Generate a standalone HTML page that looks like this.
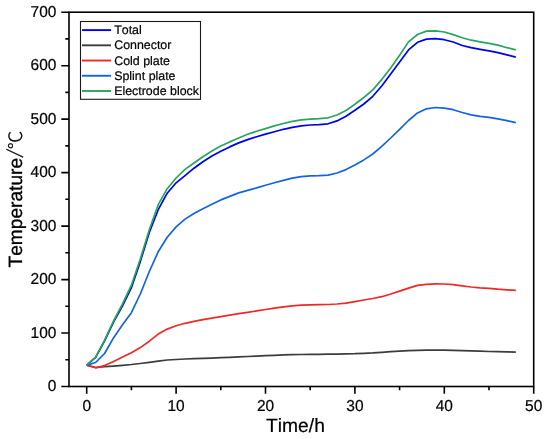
<!DOCTYPE html>
<html lang="en"><head><meta charset="utf-8"><title>Temperature vs Time</title>
<style>
html,body{margin:0;padding:0;background:#fff;}
body{width:550px;height:439px;overflow:hidden;}
svg{display:block;}
text{font-family:"Liberation Sans",sans-serif;fill:#000;font-kerning:none;text-rendering:geometricPrecision;stroke:#000;stroke-width:0.2px;}
.tk{font-size:15.5px;stroke-width:0.35px;}
.lg{font-size:12.4px;}
.ax{font-size:19.3px;stroke-width:0.3px;}
.sl{font-family:"IPAGothic","Liberation Sans",sans-serif;}
.cj{font-family:"Liberation Sans","Noto Sans CJK SC",sans-serif;font-weight:300;font-size:18.5px;}
</style></head><body>
<svg width="550" height="439" viewBox="0 0 550 439">
<rect x="0" y="0" width="550" height="439" fill="#ffffff"/>
<g>
<polyline points="86.7,365.1 95.6,357.3 104.6,340.8 113.5,322.1 122.5,305.8 131.4,287.6 140.3,261.6 149.3,232.5 158.2,209.7 167.2,193.2 176.1,182.8 185.0,175.6 194.0,168.2 202.9,161.7 211.9,156.0 220.8,151.2 229.7,146.9 238.7,142.9 247.6,139.6 256.6,136.7 265.5,134.1 274.4,131.7 283.4,129.3 292.3,127.4 301.3,125.9 310.2,125.0 319.1,124.6 328.1,123.8 337.0,120.9 346.0,116.2 354.9,110.3 363.8,104.0 372.8,96.3 381.7,86.0 390.7,73.9 399.6,61.9 408.5,49.9 417.5,42.3 426.4,39.1 435.4,38.7 444.3,39.7 453.2,42.0 462.2,45.5 471.1,47.7 480.1,49.3 489.0,50.9 497.9,52.6 506.9,54.9 515.8,57.1" fill="none" stroke="#0000f0" stroke-width="1.7" stroke-linejoin="round" stroke-linecap="butt"/>
<polyline points="86.7,365.1 95.6,367.5 104.6,366.7 113.5,366.1 122.5,365.3 131.4,364.5 140.3,363.5 149.3,362.3 158.2,361.1 167.2,360.0 176.1,359.5 185.0,359.0 194.0,358.7 202.9,358.4 211.9,358.1 220.8,357.7 229.7,357.3 238.7,356.9 247.6,356.5 256.6,356.1 265.5,355.7 274.4,355.3 283.4,354.9 292.3,354.7 301.3,354.5 310.2,354.4 319.1,354.3 328.1,354.2 337.0,354.1 346.0,353.9 354.9,353.7 363.8,353.3 372.8,352.9 381.7,352.3 390.7,351.7 399.6,351.2 408.5,350.7 417.5,350.3 426.4,350.1 435.4,350.1 444.3,350.2 453.2,350.4 462.2,350.6 471.1,350.9 480.1,351.2 489.0,351.5 497.9,351.7 506.9,351.9 515.8,352.1" fill="none" stroke="#3c3c3c" stroke-width="1.7" stroke-linejoin="round" stroke-linecap="butt"/>
<polyline points="86.7,365.1 95.6,367.8 104.6,365.6 113.5,361.4 122.5,357.1 131.4,352.8 140.3,347.6 149.3,341.2 158.2,334.1 167.2,329.1 176.1,325.8 185.0,323.3 194.0,321.3 202.9,319.6 211.9,318.1 220.8,316.6 229.7,315.1 238.7,313.7 247.6,312.3 256.6,310.9 265.5,309.5 274.4,308.1 283.4,306.8 292.3,305.9 301.3,305.2 310.2,304.8 319.1,304.7 328.1,304.5 337.0,304.0 346.0,303.1 354.9,301.6 363.8,300.0 372.8,298.5 381.7,296.7 390.7,294.0 399.6,291.1 408.5,288.1 417.5,285.4 426.4,284.3 435.4,283.9 444.3,284.0 453.2,284.6 462.2,285.8 471.1,287.0 480.1,287.9 489.0,288.4 497.9,289.2 506.9,289.8 515.8,290.3" fill="none" stroke="#f02828" stroke-width="1.7" stroke-linejoin="round" stroke-linecap="butt"/>
<polyline points="86.7,365.1 95.6,362.5 104.6,353.5 113.5,337.9 122.5,324.8 131.4,312.7 140.3,294.0 149.3,271.5 158.2,251.8 167.2,237.3 176.1,226.9 185.0,219.1 194.0,213.5 202.9,208.7 211.9,204.2 220.8,199.9 229.7,196.4 238.7,192.9 247.6,190.4 256.6,187.9 265.5,185.2 274.4,182.8 283.4,180.4 292.3,178.2 301.3,176.6 310.2,175.9 319.1,175.7 328.1,175.1 337.0,173.0 346.0,169.6 354.9,165.0 363.8,159.9 372.8,154.0 381.7,146.4 390.7,138.0 399.6,129.3 408.5,120.5 417.5,112.9 426.4,108.8 435.4,107.5 444.3,108.1 453.2,109.7 462.2,112.5 471.1,114.9 480.1,116.4 489.0,117.3 497.9,118.8 506.9,120.7 515.8,122.7" fill="none" stroke="#1464e1" stroke-width="1.7" stroke-linejoin="round" stroke-linecap="butt"/>
<polyline points="86.7,365.1 95.6,357.1 104.6,340.2 113.5,321.0 122.5,303.9 131.4,285.2 140.3,259.0 149.3,229.8 158.2,204.7 167.2,188.7 176.1,178.0 185.0,169.4 194.0,163.0 202.9,156.8 211.9,151.0 220.8,146.1 229.7,141.9 238.7,138.0 247.6,134.3 256.6,131.3 265.5,128.6 274.4,125.9 283.4,123.5 292.3,121.3 301.3,119.9 310.2,119.1 319.1,118.6 328.1,117.8 337.0,115.0 346.0,110.5 354.9,104.3 363.8,97.5 372.8,89.9 381.7,79.6 390.7,67.9 399.6,55.2 408.5,41.9 417.5,34.5 426.4,31.1 435.4,30.8 444.3,32.0 453.2,34.6 462.2,37.8 471.1,40.2 480.1,41.9 489.0,43.4 497.9,45.1 506.9,47.7 515.8,49.9" fill="none" stroke="#28a55f" stroke-width="1.7" stroke-linejoin="round" stroke-linecap="butt"/>
</g>
<rect x="69.0" y="12.2" width="464.7" height="374.3" fill="none" stroke="#000" stroke-width="1.6"/>
<path d="M69.0 386.5H61.3M69.0 359.8H65.3M69.0 333.0H61.3M69.0 306.3H65.3M69.0 279.6H61.3M69.0 252.8H65.3M69.0 226.1H61.3M69.0 199.3H65.3M69.0 172.6H61.3M69.0 145.9H65.3M69.0 119.1H61.3M69.0 92.4H65.3M69.0 65.7H61.3M69.0 38.9H65.3M69.0 12.2H61.3M86.7 386.5V393.7M131.4 386.5V390.3M176.1 386.5V393.7M220.8 386.5V390.3M265.5 386.5V393.7M310.2 386.5V390.3M354.9 386.5V393.7M399.6 386.5V390.3M444.3 386.5V393.7M489.0 386.5V390.3M533.7 386.5V393.7" stroke="#000" stroke-width="1.6" fill="none"/>
<g class="tk" text-anchor="end">
<text transform="translate(56.4 391.2) scale(1 1.02)">0</text>
<text transform="translate(56.4 337.7) scale(1 1.02)">100</text>
<text transform="translate(56.4 284.3) scale(1 1.02)">200</text>
<text transform="translate(56.4 230.8) scale(1 1.02)">300</text>
<text transform="translate(56.4 177.3) scale(1 1.02)">400</text>
<text transform="translate(56.4 123.8) scale(1 1.02)">500</text>
<text transform="translate(56.4 70.4) scale(1 1.02)">600</text>
<text transform="translate(56.4 16.9) scale(1 1.02)">700</text>
</g>
<g class="tk" text-anchor="middle">
<text transform="translate(86.7 411.4) scale(1 1.02)">0</text>
<text transform="translate(176.1 411.4) scale(1 1.02)">10</text>
<text transform="translate(265.5 411.4) scale(1 1.02)">20</text>
<text transform="translate(354.9 411.4) scale(1 1.02)">30</text>
<text transform="translate(444.3 411.4) scale(1 1.02)">40</text>
<text transform="translate(533.7 411.4) scale(1 1.02)">50</text>
</g>
<text class="ax" style="stroke-width:0.2px" transform="translate(266.0 432.0) scale(1 1.0)">Time/h</text>
<text class="ax" style="font-size:19.15px" transform="translate(22.2 267.5) rotate(-90) scale(1 1.0)">Temperature<tspan class="sl">/</tspan><tspan class="cj" dx="-1.0">℃</tspan></text>
<rect x="80.5" y="21.5" width="120" height="77.8" fill="#fff" stroke="#1a1a1a" stroke-width="1.1"/>
<line x1="82" y1="30.10" x2="111" y2="30.10" stroke="#0000f0" stroke-width="1.9"/>
<text class="lg" transform="translate(114.2 34.20) scale(1 1.0)">Total</text>
<line x1="82" y1="45.32" x2="111" y2="45.32" stroke="#3c3c3c" stroke-width="1.9"/>
<text class="lg" transform="translate(114.2 49.42) scale(1 1.0)">Connector</text>
<line x1="82" y1="60.54" x2="111" y2="60.54" stroke="#f02828" stroke-width="1.9"/>
<text class="lg" transform="translate(114.2 64.64) scale(1 1.0)">Cold plate</text>
<line x1="82" y1="75.76" x2="111" y2="75.76" stroke="#1464e1" stroke-width="1.9"/>
<text class="lg" transform="translate(114.2 79.86) scale(1 1.0)">Splint plate</text>
<line x1="82" y1="90.98" x2="111" y2="90.98" stroke="#28a55f" stroke-width="1.9"/>
<text class="lg" transform="translate(114.2 95.08) scale(1 1.0)">Electrode block</text>
</svg>
</body></html>
